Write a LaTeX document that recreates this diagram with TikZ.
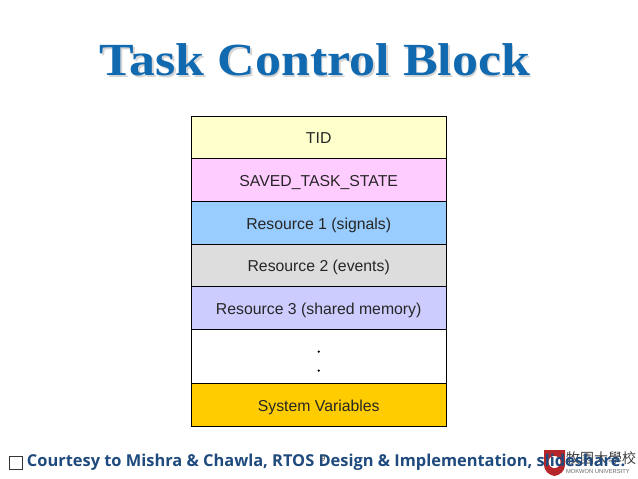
\documentclass[tikz,border=0pt]{standalone}
\usepackage{fontspec}
\setmainfont{Liberation Sans}
\newfontfamily\titlefont[FakeStretch=1.13]{Liberation Serif}
\newfontfamily\notefont{Open Sans}
\newfontfamily\cjkfont{Noto Sans CJK TC}
\usepackage{xcolor}
\usetikzlibrary{positioning}
\definecolor{tidcol}{HTML}{FFFFCC}
\definecolor{statecol}{HTML}{FFCCFF}
\definecolor{res1col}{HTML}{99CCFF}
\definecolor{res2col}{HTML}{DDDDDD}
\definecolor{res3col}{HTML}{CCCCFF}
\definecolor{syscol}{HTML}{FFCC00}
\definecolor{titlecol}{HTML}{1169B0}
\definecolor{notecol}{HTML}{1F4A7D}
\definecolor{logocol}{HTML}{B5262B}

\begin{document}
\begin{tikzpicture}[x=1pt,y=-1pt,node distance=0 cm,outer sep = 0pt,inner sep = 2pt]
      \tikzset{field/.style={align=center,shape=rectangle,minimum height=42.7pt,minimum width=254.5pt,draw,line width=0.8pt,font=\fontsize{15.8}{18}\selectfont,text=black!85,text height=13pt,text depth=0pt}}
      \tikzset{tallfield/.style={field,minimum height=53.8pt}}
      \useasboundingbox (0,0) rectangle (638,479);

      \node [font=\titlefont\fontsize{46}{50}\selectfont\bfseries,text=black!30,opacity=0.55] (shade) at (316.5,61.5) {Task Control Block};
      \node [font=\titlefont\fontsize{46}{50}\selectfont\bfseries,text=titlecol] (title) at (315,60) {Task Control Block};

      \node [field,fill=tidcol] (tid) at (318.7,137.35) {TID};
      \node [field,below=of tid,fill=statecol] (state) {SAVED\_TASK\_STATE};
      \node [field,below=of state,fill=res1col] (res1) {Resource 1 (signals)};
      \node [field,below=of res1,fill=res2col] (res2) {Resource 2 (events)};
      \node [field,below=of res2,fill=res3col] (res3) {Resource 3 (shared memory)};
      \node [tallfield,below=of res3,fill=white] (dots) {};
      \node [field,below=of dots,fill=syscol] (sys) {System Variables};
      \fill (dots.center) ++(0,-4.8) circle (1.2pt) ++(0,19) circle (1.2pt);

      % logo
      \fill [logocol] (544,450) -- (565,450) -- (565,465) .. controls (565,471) and (560,475) .. (554.5,476) .. controls (549,475) and (544,471) .. (544,465) -- cycle;
      \fill [white] (554.5,462) circle (6pt);
      \node [font=\cjkfont\fontsize{14}{16}\selectfont,text=black!75,anchor=west,inner sep=0pt] (logocn) at (566,458) {牧園大學校};
      \node [font=\fontsize{5.8}{6}\selectfont,text=black!60,anchor=west,inner sep=0pt] (logoen) at (566,471) {MOKWON UNIVERSITY};

      \draw [black!80,line width=0.8pt] (9,456) rectangle (22,469);
      \node [font=\notefont\fontsize{16.4}{18}\selectfont\bfseries,text=notecol,anchor=west,inner sep=0pt] (note) at (27,462) {Courtesy to Mishra \& Chawla, RTOS Design \& Implementation, slideshare.};
      \node [font=\fontsize{8}{9}\selectfont,text=black!70,inner sep=0pt] (page) at (323,459) {9};
    \end{tikzpicture}
\end{document}
